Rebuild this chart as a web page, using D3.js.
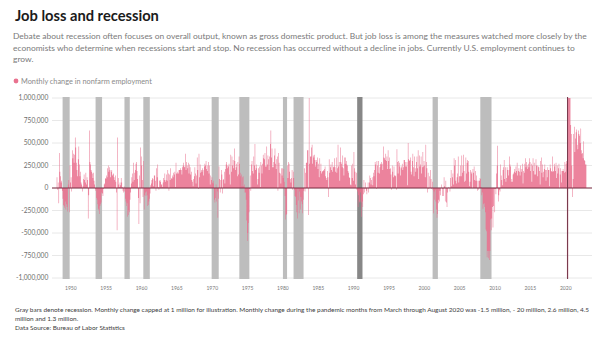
<!DOCTYPE html>
<html>
<head>
<meta charset="utf-8">
<script src="https://cdn.jsdelivr.net/npm/d3@7"></script>
<style>
body{margin:0;background:#fff;}
text{font-family:Lato,"Noto Sans",sans-serif;}
</style>
</head>
<body>
<script>
// monthly change in nonfarm employment, thousands, from January of the first year
var jobs1940s = [
  120,-20,60,-170,390,180,130,60,80,-30,-120,-190,
  -200,-220,-150,-240,-180,-210,-260,40,90,-270,250,60];
var jobs1950s = [
  120,-40,420,330,380,280,370,560,450,280,200,130,
  320,460,260,130,180,60,40,-40,20,100,150,90,
  60,170,40,120,90,-340,-80,640,290,260,200,180,
  160,110,170,80,40,-30,-10,-110,-130,-180,-230,-250,
  -290,-200,-180,-160,-50,-60,-90,-10,40,50,110,100,
  140,120,220,250,180,230,200,120,180,200,140,150,
  160,120,90,140,70,-50,-470,560,110,40,10,60,
  30,110,60,10,-30,-50,20,-40,-120,-150,-200,-170,
  -320,-300,-250,-270,-130,-50,50,120,160,70,280,90,
  170,200,270,290,190,100,-110,-400,140,-170,450,350];
var jobs1960s = [
  250,90,-100,300,-240,-80,-50,-90,-40,-80,-200,-190,
  -150,-120,-60,30,50,90,110,100,20,140,140,80,
  -30,220,120,260,10,-20,80,90,70,40,40,10,
  60,110,90,160,70,90,150,80,200,160,-30,150,
  90,220,110,100,140,120,170,150,180,10,280,160,
  160,180,160,200,200,200,220,200,150,230,250,280,
  230,240,380,200,290,250,220,280,160,260,230,150,
  180,90,70,20,100,130,230,160,50,140,340,200,
  -10,380,120,260,170,200,180,220,200,140,240,270,
  250,300,210,190,250,290,160,250,40,140,90,120];
var jobs1970s = [
  60,50,80,-130,-160,-110,40,-150,-40,-330,-120,240,
  100,-50,90,200,150,-60,90,100,180,50,210,260,
  290,220,250,240,270,150,40,370,180,350,250,310,
  220,440,300,200,230,270,130,290,150,350,270,170,
  130,150,20,120,130,20,40,-50,-50,-130,-360,-590,
  -500,-390,-270,-10,140,-30,260,300,190,160,350,250,
  490,200,220,260,40,100,220,170,240,10,290,250,
  160,270,370,330,320,390,240,240,460,260,360,320,
  200,350,490,640,340,440,230,230,290,360,440,270,
  210,320,350,-30,390,280,170,160,50,220,140,220];
var jobs1980s = [
  110,210,70,-90,-350,-300,-290,250,110,290,270,180,
  100,60,110,200,-20,180,110,-20,-90,-100,-190,-270,
  -340,-10,-140,-280,-40,-240,-100,-150,-180,-280,-130,-30,
  220,-40,170,280,280,420,420,-300,1110,270,350,350,
  450,480,270,360,340,370,310,240,310,290,340,210,
  270,120,330,190,270,160,180,190,200,190,210,240,
  130,110,90,190,120,-100,320,170,230,260,200,290,
  180,230,240,330,230,180,340,170,220,480,240,290,
  80,450,290,270,230,360,220,140,340,270,340,300,
  260,250,190,170,120,110,40,30,250,110,270,80];
var jobs1990s = [
  400,220,180,40,170,-20,-40,-210,-80,-160,-150,-50,
  -160,-320,-150,-210,-70,90,-50,-10,60,-30,-70,0,
  60,-50,60,140,110,40,90,120,30,170,130,200,
  290,260,-10,300,250,170,300,160,230,270,260,290,
  270,200,460,340,330,310,380,300,350,210,420,300,
  340,210,220,150,-20,250,180,120,240,140,140,130,
  -20,430,290,160,300,280,240,140,220,240,270,200,
  230,310,310,290,240,240,290,30,500,320,300,310,
  340,180,150,300,380,230,130,350,220,180,290,350,
  220,420,100,360,240,260,350,160,230,400,240,300];
var jobs2000s = [
  250,120,480,290,220,-50,170,-10,130,0,200,100,
  -10,70,-20,-280,-40,-130,-20,-150,-240,-330,-290,-170,
  -130,-150,-30,-80,0,40,-90,-10,-90,120,20,-150,
  80,-160,-210,-50,0,10,0,-40,110,200,20,120,
  160,40,330,250,310,80,50,120,160,350,60,130,
  130,250,130,360,170,250,370,190,70,80,340,160,
  280,310,300,180,20,70,200,180,160,0,210,170,
  240,90,190,80,140,80,-30,-20,80,80,110,100,
  10,-80,-50,-230,-180,-170,-210,-270,-460,-480,-770,-700,
  -780,-700,-800,-700,-350,-470,-340,-210,-440,-200,-10,-270];
var jobs2010s = [
  -10,-70,160,250,470,-150,-80,-20,-40,260,140,90,
  30,200,230,310,100,230,70,110,230,200,140,200,
  350,260,240,70,100,70,150,160,180,210,170,240,
  190,280,140,190,220,180,140,250,180,210,270,50,
  190,170,270,330,230,290,250,210,270,230,330,290,
  190,270,70,250,330,190,280,150,150,320,250,250,
  130,240,230,190,40,300,340,170,260,120,180,210,
  260,200,80,200,120,230,200,200,20,260,220,190,
  180,350,180,190,270,240,190,280,110,250,160,220,
  270,1,150,220,60,190,190,210,190,170,290,180];
var jobs2020s = [
  270,300,-1500,-20500,2700,4500,1400,1300,700,600,250,-100,
  100,600,680,400,550,620,650,480,430,640,600,580,
  500,660,420,380,390,330,520,310,300,260,260];

// NBER recessions, peak month to trough month
var recessionStart = ["1948-11","1953-07","1957-08","1960-04","1969-12","1973-11","1980-01","1981-07","1990-07","2001-03","2007-12","2020-02"];
var recessionEnd   = ["1949-10","1954-05","1958-04","1961-02","1970-11","1975-03","1980-07","1982-11","1991-03","2001-11","2009-06","2020-04"];

var yearTicks = [1950,1955,1960,1965,1970,1975,1980,1985,1990,1995,2000,2005,2010,2015,2020];
var valueTicks = [1000000,750000,500000,250000,0,-250000,-500000,-750000,-1000000];
var cap = 1000000;

var width = 600, height = 344;
var pink = "#e9728f";

var svg = d3.select("body").append("svg")
  .attr("width", width)
  .attr("height", height);

function fit(sel, w) {
  var size = parseFloat(sel.attr("font-size"));
  var len = sel.node().getComputedTextLength();
  sel.attr("font-size", size * w / len);
  return size * w / len;
}

// title + intro
var title = svg.append("text")
  .attr("x", 15).attr("y", 21)
  .attr("font-size", 16).attr("font-weight", 700)
  .attr("fill", "#1b1b1b")
  .text("Job loss and recession");
fit(title, 144);

var intro = [
  "Debate about recession often focuses on overall output, known as gross domestic product. But job loss is among the measures watched more closely by the",
  "economists who determine when recessions start and stop. No recession has occurred without a decline in jobs. Currently U.S. employment continues to",
  "grow."
];
var introSize = 9;
intro.forEach(function(line, i) {
  var t = svg.append("text")
    .attr("x", 13).attr("y", 39 + i * 11.6)
    .attr("font-size", introSize)
    .attr("fill", "#7a7a7a")
    .text(line);
  if (i === 0) introSize = fit(t, 575);
  else t.attr("font-size", introSize);
});

// legend
svg.append("circle")
  .attr("cx", 16).attr("cy", 81).attr("r", 2.4)
  .attr("fill", pink);
var leg = svg.append("text")
  .attr("x", 21).attr("y", 83.8)
  .attr("font-size", 7.5)
  .attr("fill", "#8a8a8a")
  .text("Monthly change in nonfarm employment");
fit(leg, 131);

// scales
var x = d3.scaleLinear()
  .domain([1948, 2023])
  .range([56.7, 56.7 + 75 * 7.07]);
var y = d3.scaleLinear()
  .domain([-1000000, 1000000])
  .range([278, 98]);

function monthToYear(s) {
  var p = s.split("-");
  return +p[0] + (+p[1] - 1) / 12;
}

// gridlines + y labels
var yAxis = svg.append("g");
yAxis.selectAll("line")
  .data(valueTicks)
  .join("line")
  .attr("x1", 52).attr("x2", 592)
  .attr("y1", function(d){ return y(d); })
  .attr("y2", function(d){ return y(d); })
  .attr("stroke", "#e2e2e2")
  .attr("stroke-width", 0.8);

var fmt = d3.format(",");
var yl = yAxis.selectAll("text")
  .data(valueTicks)
  .join("text")
  .attr("x", 48.3)
  .attr("y", function(d){ return y(d); })
  .attr("dy", "0.35em")
  .attr("text-anchor", "end")
  .attr("font-size", 7.5)
  .attr("fill", "#6e6e6e")
  .text(function(d){ return fmt(d).replace("\u2212", "-"); });
var ySize = fit(d3.select(yl.nodes()[0]), 30);
yl.attr("font-size", ySize);

// recession bars
var recessions = recessionStart.map(function(s, i) {
  return {start: monthToYear(s), end: monthToYear(recessionEnd[i]) + 1 / 12, label: s};
});
var barFill = {"1990-07": "#878787", "2020-02": "#7a3a4e"};

svg.append("g")
  .selectAll("rect")
  .data(recessions.filter(function(d){ return d.label !== "2020-02"; }))
  .join("rect")
  .attr("x", function(d){ return x(d.start); })
  .attr("width", function(d){ return x(d.end) - x(d.start); })
  .attr("y", 97)
  .attr("height", 182)
  .attr("fill", function(d){ return barFill[d.label] || "#bdbdbd"; });

// monthly series
var monthly = [].concat(jobs1940s, jobs1950s, jobs1960s, jobs1970s, jobs1980s, jobs1990s, jobs2000s, jobs2010s, jobs2020s);
var points = monthly.map(function(v, i) {
  return {t: 1948 + i / 12, v: Math.max(-cap, Math.min(cap, v * 1000))};
});
points.push({t: 1948 + monthly.length / 12, v: points[points.length - 1].v});

var area = d3.area()
  .curve(d3.curveStepAfter)
  .x(function(d){ return x(d.t); })
  .y0(y(0))
  .y1(function(d){ return y(d.v); });

svg.append("path")
  .datum(points)
  .attr("d", area)
  .attr("fill", pink)
  .attr("fill-opacity", 0.88);

// pandemic recession drawn on top
svg.append("g")
  .selectAll("rect")
  .data(recessions.filter(function(d){ return d.label === "2020-02"; }))
  .join("rect")
  .attr("x", function(d){ return x(d.end) - 1.1; })
  .attr("width", 1.1)
  .attr("y", 97)
  .attr("height", 182)
  .attr("fill", function(d){ return barFill[d.label]; });

// zero line
svg.append("line")
  .attr("x1", 52).attr("x2", 592)
  .attr("y1", y(0)).attr("y2", y(0))
  .attr("stroke", "#7d2c42")
  .attr("stroke-width", 1);

// x labels
var xl = svg.append("g")
  .selectAll("text")
  .data(yearTicks)
  .join("text")
  .attr("x", function(d){ return x(d); })
  .attr("y", 289.5)
  .attr("text-anchor", "middle")
  .attr("font-size", 7.5)
  .attr("fill", "#777")
  .text(function(d){ return d; });
var xSize = fit(d3.select(xl.nodes()[0]), 11.7);
xl.attr("font-size", xSize);

// notes
var notes = [
  "Gray bars denote recession. Monthly change capped at 1 million for illustration. Monthly change during the pandemic months from March through August 2020 was -1.5 million, - 20 million, 2.6 million, 4.5",
  "million and 1.3 million.",
  "Data Source: Bureau of Labor Statistics"
];
var noteSize = 6.5;
notes.forEach(function(line, i) {
  var t = svg.append("text")
    .attr("x", 15).attr("y", 311.5 + i * 9)
    .attr("font-size", noteSize)
    .attr("fill", "#3d3d3d")
    .text(line);
  if (i === 0) noteSize = fit(t, 575);
  else t.attr("font-size", noteSize);
});
</script>
</body>
</html>
